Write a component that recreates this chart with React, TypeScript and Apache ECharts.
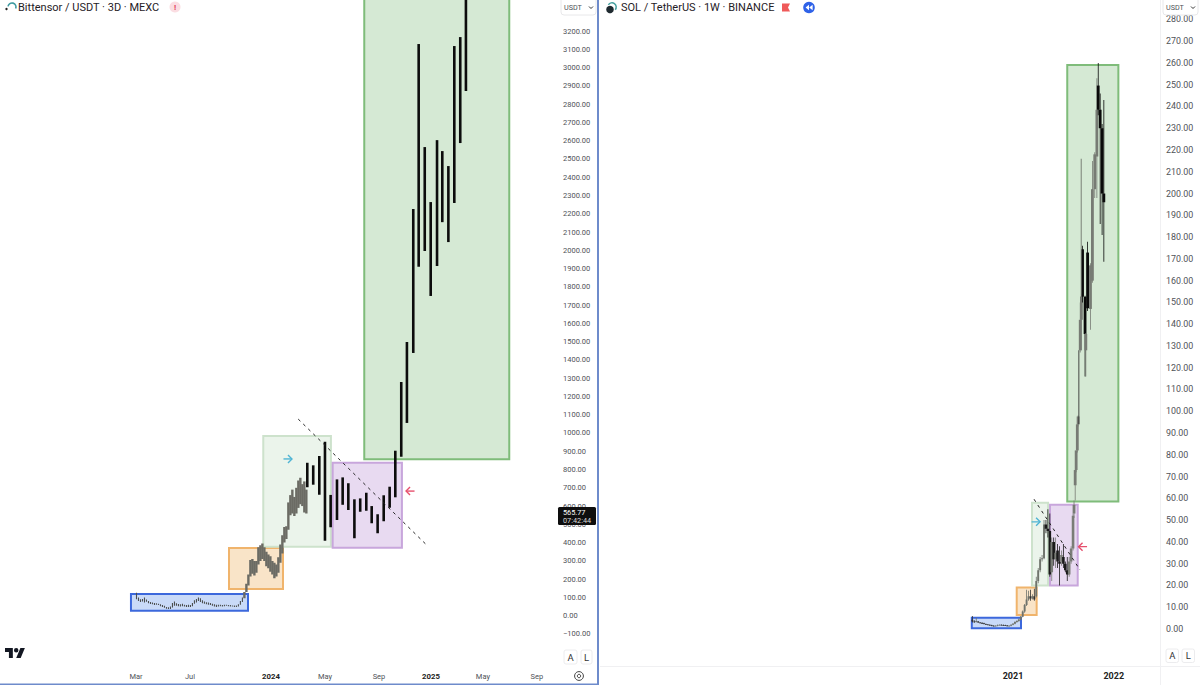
import React, { useEffect, useRef } from "react";
import * as echarts from "echarts";

// ---------- Bittensor (x unit: months since Jan 2023; y: USDT) ----------
const taoTickMonths = [2, 6, 12, 16, 20, 23.85, 27.7, 31.7];
const taoTickLabels = ["Mar", "Jul", "2024", "May", "Sep", "2025", "May", "Sep"];
const taoFirstMonth = 2.04;
const taoMonthStep = 0.148;
// [low, high] for consecutive early candles
const taoFlat = [
  [90,125],[80,100],[75,90],[78,92],[72,100],[76,88],[68,80],[64,75],[62,72],[58,70],[60,68],[58,66],[52,62],[48,58],[44,54],[38,48],[36,46],[36,50],[45,70],[55,78],[55,68],[52,64],[50,62],[52,66],[50,60],[48,58],[48,60],[48,58],[52,70],[65,85],[72,92],[80,100],[75,95],[68,85],[65,78],[62,74],[60,72],[58,70],[55,66],[50,62],[48,60],[50,60],[52,60],[50,58],[52,60],[54,60],[52,58],[50,58],[50,56],[48,56],[48,56],[50,62],[60,80],[75,100],
];
const taoRise = [
  [95,130],[130,175],[165,225],[215,305],[230,310],[220,300],[235,300],[280,375],[300,385],[310,395],[300,375],[270,350],[260,335],[240,325],[225,300],[205,290],[215,280],[235,320],[290,390],[340,440],[400,485],[420,490],[470,620],[550,660],[560,690],[545,650],[560,700],[590,740],[610,755],[600,720],[565,735],[560,690],
];
// [month, low, high]
const taoLate = [
  [14.69,703,837],[15.13,717,823],[15.58,662,874],[16.0,410,952],[16.42,484,661],[16.89,524,746],[17.31,607,757],[17.73,578,725],[18.18,424,637],[18.61,569,642],[19.06,575,673],[19.46,506,600],[19.9,451,555],[20.35,517,659],[20.79,591,706],[21.21,648,903],[21.65,870,1279],[22.07,1055,1498],[22.54,1438,2226],[22.94,1910,3129],[23.39,1996,2565],[23.83,1750,2264],[24.3,1914,2603],[24.69,2154,2543],[25.14,2045,2461],[25.58,2259,3118],[26.02,2587,3167],[26.44,2872,3420],
];
// [x0, x1, low, high]
const taoBoxes = [
  [1.63,10.3,27,119],[8.89,12.89,146,370],[11.43,16.44,378,983],[16.57,21.7,372,837],[18.91,29.65,856,3600],
];
const taoTrend = [[14.02,1076],[23.53,387]];
// [x, y, direction]
const taoArrows = [[13.26,858,1],[22.3,682,-1]];

// ---------- SOL (x unit: weeks since Jan 2021; y: USDT) ----------
const solTickWeeks = [0, 52];
const solTickLabels = ["2021", "2022"];
// [week, open, close, low, high]
const solEarly = [
  [-21,4.2,3.4,3,6],[-20,3.4,3.3,2.9,4],[-19,3.5,3.6,3,5.2],[-18,3.4,3,2.8,3.7],[-17,3,2.8,2.6,3.2],[-16,2.8,2.6,2.4,3],[-15,2.6,2.3,2.1,2.8],[-14,2.3,2.1,1.9,2.5],[-13,2.1,1.9,1.8,2.3],[-12,1.9,1.7,1.5,2.1],[-11,1.7,1.5,1.3,1.9],[-10,1.5,1.4,1.2,1.7],[-9,1.4,1.5,1.2,1.7],[-8,1.5,1.8,1.3,2],[-7,1.8,1.9,1.6,2.1],[-6,1.9,1.8,1.6,2.1],[-5,1.8,1.7,1.5,2],[-4,1.7,1.6,1.4,1.9],[-3,1.6,1.5,1.3,1.8],[-2,1.5,1.5,1.3,1.7],[-1,1.5,1.9,1.3,2.2],[0,1.9,2.4,1.7,2.7],[1,2.4,3.2,2.2,3.5],[2,3.2,3.6,2.9,4],[3,3.6,4.3,3.3,4.8],[4,4.3,5.6,4,6],[5,5.6,8,5.4,8.5],[6,8,11,7.5,11.5],[7,11,13.5,10.5,18],[8,13.5,15,13,17.5],[9,15,14,13,18],[10,14,15,13.5,16],[11,15,13.5,13,18.5],[12,15,22,14.5,24],[13,22,27,21,28],[14,27,32,26,33],[15,32,32.5,31,34],[16,32.5,48,32,50],
];
const solMiddle = [
  [17,48,46,44,50],[18,46,45,42,55],[19,45,25,24,53],[20,26,40,22,42],[21,40,32,29,42],[22,32,35,28,42],[23,36,31,28,39],[24,31,30,20,38],[25,31,34,29,36],[26,33,30,28,39],[27,30,27,26,31],[28,27,25,22,33],[29,25,31,24,33],[30,31,37,30,38],[31,37,52,36,53],
];
const solTop = [
  [31.5,53,57,51,59],[32.1,66,73,59,73],[32.6,73,82,72,82],[33.2,82,94,81,94],[33.6,94,97.6,93,98],[34.7,128,142,127,150],[35.3,142,152.7,128,154],[35.9,174.4,152.6,150,176],[37.2,152.6,135.5,116,153],[37.6,128,135.5,116,136],[38.5,172.9,147.3,146,177.8],[40,147,167,137.4,168],[41,160,202,159,215],[42.2,202,218,198,219],[43.3,217,238.5,198,253],[44,249.6,238.5,236,260],[45,238.5,230,186,246],[46,230,200,181,232],[46.9,200,196,168.7,243],
];
// [week, low, high]: the thin dark jump and the long pale wick
const solThinDark = [[34,94,128]];
const solThinPale = [[35.2,150,216]];
const solBoxes = [
  [-21.3,4.13,0.3,5.2],[1.9,12.2,6.4,19],[9.8,18.1,20,58],[19.1,33.4,20,57],[28,54.4,58.5,259],
];
const solTrend = [[10.84,59.6],[34.6,27.1]];
const solArrows = [[11.9,49.2,1],[35.9,37.8,-1]];

// ---------- styling ----------
const boxFills = ["#c9daf8", "#f9e4c8", "#ebf4eb", "#e8daf1", "#d5e9d4"];
const boxStrokes = ["#3c68dc", "#f0b46c", "#cde2cc", "#c8a6dc", "#7fbc7a"];
const UI_FONT = "Roboto, 'Noto Sans', sans-serif";
const AXIS_TEXT = "#4f5258";
const TV_PATH = "M14 22H7V11H0V4h14v18zM28 22h-8l7.5-18h8L28 22zM24 8a4 4 0 1 1-8 0 4 4 0 0 1 8 0z";

const boxSeries = (data: number[][], i: number) => ({
  type: "custom", xAxisIndex: i, yAxisIndex: i, clip: true, silent: true, z: 1, data,
  encode: { x: [0, 1], y: [2, 3] },
  renderItem: (params: any, api: any) => {
    const a = api.coord([api.value(0), api.value(3)]);
    const b = api.coord([api.value(1), api.value(2)]);
    return {
      type: "rect",
      shape: { x: a[0], y: a[1], width: b[0] - a[0], height: b[1] - a[1] },
      style: { fill: boxFills[params.dataIndex], stroke: boxStrokes[params.dataIndex], lineWidth: 2 },
    };
  },
});

const rangeSeries = (data: number[][], i: number, width: number, color: string, z = 3) => ({
  type: "custom", xAxisIndex: i, yAxisIndex: i, clip: true, silent: true, z, data,
  encode: { x: 0, y: [1, 2] },
  renderItem: (_: any, api: any) => {
    const a = api.coord([api.value(0), api.value(2)]);
    const b = api.coord([api.value(0), api.value(1)]);
    return {
      type: "rect",
      shape: { x: a[0] - width / 2, y: a[1], width, height: Math.max(b[1] - a[1], 1) },
      style: { fill: color },
    };
  },
});

const candleSeries = (data: number[][], i: number, up: string, down: string, bodyW: number) => ({
  type: "custom", xAxisIndex: i, yAxisIndex: i, clip: true, silent: true, z: 3, data,
  encode: { x: 0, y: [3, 4] },
  renderItem: (_: any, api: any) => {
    const o = api.coord([api.value(0), api.value(1)]);
    const c = api.coord([api.value(0), api.value(2)]);
    const l = api.coord([api.value(0), api.value(3)]);
    const h = api.coord([api.value(0), api.value(4)]);
    const color = api.value(2) < api.value(1) ? down : up;
    const top = Math.min(o[1], c[1]);
    return {
      type: "group",
      children: [
        { type: "rect", shape: { x: o[0] - 0.4, y: h[1], width: 0.8, height: l[1] - h[1] }, style: { fill: color } },
        { type: "rect", shape: { x: o[0] - bodyW / 2, y: top, width: bodyW, height: Math.max(Math.abs(o[1] - c[1]), 0.8) }, style: { fill: color } },
      ],
    };
  },
});

const trendSeries = (data: number[][], i: number) => ({
  type: "line", xAxisIndex: i, yAxisIndex: i, data, symbol: "none", silent: true, z: 4,
  lineStyle: { color: "#222", width: 1, type: [3, 4] },
});

const arrowSeries = (data: number[][], i: number) => ({
  type: "custom", xAxisIndex: i, yAxisIndex: i, clip: true, silent: true, z: 5, data,
  encode: { x: 0, y: 1 },
  renderItem: (_: any, api: any) => {
    const p = api.coord([api.value(0), api.value(1)]);
    const d = api.value(2);
    const color = d > 0 ? "#4fb4d4" : "#e6506e";
    const s = { stroke: color, lineWidth: 1.4, fill: "none" };
    return {
      type: "group",
      children: [
        { type: "polyline", shape: { points: [[p[0] - 4.5 * d, p[1]], [p[0] + 4 * d, p[1]]] }, style: s },
        { type: "polyline", shape: { points: [[p[0], p[1] - 4], [p[0] + 4 * d, p[1]], [p[0], p[1] + 4]] }, style: s },
      ],
    };
  },
});

const yLabel = (maxShown: number, minShown: number) => (v: number) => {
  if (v > maxShown || v < minShown) return "";
  return v < 0 ? "\u2212" + Math.abs(v).toFixed(2) : v.toFixed(2);
};

const xLabel = (ticks: number[], labels: string[]) => (v: number) => {
  const s = labels[ticks.indexOf(v)] ?? "";
  return /^\d{4}$/.test(s) ? `{b|${s}}` : s;
};

const usdtButton = (x: number, w: number, fs: number) => [
  { type: "rect", z: 20, shape: { x, y: -3, width: w, height: 18, r: 3 }, style: { fill: "#fff", stroke: "#e8e8ea", lineWidth: 1 } },
  { type: "text", z: 21, x: x + 3, y: 7.5, style: { text: "USDT", fill: AXIS_TEXT, font: `${fs}px ${UI_FONT}`, textVerticalAlign: "middle" } },
  { type: "polyline", z: 21, shape: { points: [[x + w - 7, 6.5], [x + w - 5, 8.5], [x + w - 3, 6.5]] }, style: { stroke: "#333", lineWidth: 1, fill: "none" } },
];

const miniButton = (x: number, y: number, w: number, h: number, t: string, fs: number) => [
  { type: "rect", z: 20, shape: { x, y, width: w, height: h, r: 2 }, style: { fill: "#fff", stroke: "#ececee", lineWidth: 1 } },
  { type: "text", z: 21, x: x + w / 2, y: y + h / 2, style: { text: t, fill: "#333", font: `${fs}px ${UI_FONT}`, textAlign: "center", textVerticalAlign: "middle" } },
];

export default function App() {
  const ref = useRef<HTMLDivElement>(null);
  useEffect(() => {
    document.body.style.margin = "0";
    document.body.style.background = "#fff";
    echarts.graphic.registerShape("tvLogo", echarts.graphic.extendPath(TV_PATH, {}) as any);

    const chart = echarts.init(ref.current!, undefined, { renderer: "svg" });
    const taoEarlyPts = taoFlat.map(([l, h], i) => [taoFirstMonth + i * taoMonthStep, l, h]);
    const taoRisePts = taoRise.map(([l, h], i) => [taoFirstMonth + (i + taoFlat.length) * taoMonthStep, l, h]);

    chart.setOption({
      animation: false,
      backgroundColor: "#ffffff",
      grid: [
        { left: 0, top: 0, width: 558, height: 670.5 },
        { left: 600, top: 0, width: 560, height: 672.5 },
      ],
      xAxis: [
        {
          type: "value", gridIndex: 0, min: -8.07, max: 33.26, splitLine: { show: false },
          axisLine: { show: false }, axisTick: { show: false },
          axisLabel: {
            customValues: taoTickMonths, formatter: xLabel(taoTickMonths, taoTickLabels), color: AXIS_TEXT,
            fontSize: 7.5, fontFamily: UI_FONT, margin: 1.5,
            rich: { b: { fontWeight: 700, fontSize: 7.8, fontFamily: UI_FONT, color: "#222" } },
          },
        },
        {
          type: "value", gridIndex: 1, min: -213.3, max: 75.9, splitLine: { show: false },
          axisLine: { show: false }, axisTick: { show: false },
          axisLabel: {
            customValues: solTickWeeks, formatter: xLabel(solTickWeeks, solTickLabels), color: AXIS_TEXT,
            fontSize: 9, fontFamily: UI_FONT, margin: -1,
            rich: { b: { fontWeight: 700, fontSize: 9, fontFamily: UI_FONT, color: "#222" } },
          },
        },
      ],
      yAxis: [
        {
          type: "value", gridIndex: 0, position: "right", min: -300, max: 3370, interval: 100, splitLine: { show: false },
          axisLine: { show: false }, axisTick: { show: false },
          axisLabel: { formatter: yLabel(3200, -100), color: AXIS_TEXT, fontSize: 7.5, fontFamily: UI_FONT, margin: 5, showMinLabel: true, showMaxLabel: true },
        },
        {
          type: "value", gridIndex: 1, position: "right", min: -20, max: 288.9, interval: 10, splitLine: { show: false },
          axisLine: { show: false }, axisTick: { show: false },
          axisLabel: { formatter: yLabel(280, 0), color: AXIS_TEXT, fontSize: 8.9, fontFamily: UI_FONT, margin: 6, showMinLabel: true, showMaxLabel: true },
        },
      ],
      series: [
        boxSeries(taoBoxes, 0),
        boxSeries(solBoxes, 1),
        rangeSeries(taoEarlyPts, 0, 1.1, "#4c4f4f"),
        rangeSeries(taoRisePts, 0, 2.4, "#6b6b64"),
        rangeSeries(taoLate, 0, 2.6, "#0c0c0c"),
        candleSeries(solEarly, 1, "#6f736c", "#333333", 1.9),
        candleSeries(solMiddle, 1, "#7a7d77", "#1a1a1a", 2.6),
        candleSeries(solTop, 1, "#777b74", "#0a0a0a", 2.8),
        rangeSeries(solThinDark, 1, 0.9, "#333333"),
        rangeSeries(solThinPale, 1, 0.9, "#6f736c"),
        trendSeries(taoTrend, 0),
        trendSeries(solTrend, 1),
        arrowSeries(taoArrows, 0),
        arrowSeries(solArrows, 1),
      ],
      graphic: [
        // pane borders and separators
        { type: "rect", z: 15, shape: { x: 597, y: 0, width: 2, height: 685 }, style: { fill: "#6e8bcb" } },
        { type: "rect", z: 15, shape: { x: 0, y: 683.5, width: 598, height: 1.5 }, style: { fill: "#6e8bcb" } },
        { type: "line", z: 15, shape: { x1: 1160.5, y1: 0, x2: 1160.5, y2: 685 }, style: { stroke: "#f0f0f2", lineWidth: 1 } },
        { type: "line", z: 15, shape: { x1: 600, y1: 666.5, x2: 1200, y2: 666.5 }, style: { stroke: "#f0f0f2", lineWidth: 1 } },
        // left header
        { type: "arc", z: 20, shape: { cx: 12, cy: 7, r: 4, startAngle: -3, endAngle: 0.4 }, style: { stroke: "#3e9aa0", lineWidth: 1.6, fill: "none" } },
        { type: "circle", z: 20, shape: { cx: 6.5, cy: 9, r: 1.2 }, style: { fill: "#222" } },
        { type: "text", z: 20, x: 18, y: 7.5, style: { text: "Bittensor / USDT \u00b7 3D \u00b7 MEXC", fill: "#1f2126", font: `11px ${UI_FONT}`, textVerticalAlign: "middle" } },
        { type: "circle", z: 20, shape: { cx: 175, cy: 7, r: 5.5 }, style: { fill: "#fbdde2" } },
        { type: "text", z: 21, x: 175, y: 7.5, style: { text: "!", fill: "#e0405a", font: `bold 8px ${UI_FONT}`, textAlign: "center", textVerticalAlign: "middle" } },
        // right header
        { type: "circle", z: 20, shape: { cx: 610, cy: 9.5, r: 3.8 }, style: { fill: "#1f2a30" } },
        { type: "arc", z: 20, shape: { cx: 612, cy: 7, r: 4.2, startAngle: -2.6, endAngle: 0.7 }, style: { stroke: "#46a0a0", lineWidth: 1.5, fill: "none" } },
        { type: "text", z: 20, x: 621, y: 7.5, style: { text: "SOL / TetherUS \u00b7 1W \u00b7 BINANCE", fill: "#1f2126", font: `11px ${UI_FONT}`, textVerticalAlign: "middle" } },
        { type: "polygon", z: 20, shape: { points: [[782, 3.5], [790, 3.5], [788, 7.5], [790, 11.5], [782, 11.5]] }, style: { fill: "#ef5a5a" } },
        { type: "circle", z: 20, shape: { cx: 809, cy: 7.5, r: 5.8 }, style: { fill: "#2f62e8" } },
        { type: "polygon", z: 21, shape: { points: [[809, 4.8], [809, 10.2], [805.6, 7.5]] }, style: { fill: "#fff" } },
        { type: "polygon", z: 21, shape: { points: [[812.6, 4.8], [812.6, 10.2], [809.2, 7.5]] }, style: { fill: "#fff" } },
        // price tag
        { type: "rect", z: 20, shape: { x: 558, y: 507, width: 38, height: 18, r: 1.5 }, style: { fill: "#0e0e0e" } },
        { type: "text", z: 21, x: 563, y: 512, style: { text: "565.77", fill: "#fff", font: `7.3px ${UI_FONT}`, textVerticalAlign: "middle" } },
        { type: "text", z: 21, x: 563, y: 520, style: { text: "07:42:44", fill: "#d8d8d8", font: `7.3px ${UI_FONT}`, textVerticalAlign: "middle" } },
        // buttons
        ...usdtButton(561, 35, 7.2),
        ...usdtButton(1163, 35, 7.2),
        ...miniButton(564, 650, 13, 14, "A", 9.5),
        ...miniButton(581, 650, 11, 14, "L", 9.5),
        ...miniButton(1166, 649, 12.5, 13.5, "A", 9.5),
        ...miniButton(1182, 649, 12.5, 13.5, "L", 9.5),
        // settings icon
        { type: "circle", z: 20, shape: { cx: 579, cy: 676, r: 4.4 }, style: { fill: "none", stroke: "#444", lineWidth: 1 } },
        { type: "circle", z: 20, shape: { cx: 579, cy: 676, r: 1.7 }, style: { fill: "none", stroke: "#444", lineWidth: 1 } },
        // TradingView mark
        { type: "tvLogo", z: 20, x: 5, y: 645.8, scaleX: 0.56, scaleY: 0.56, style: { fill: "#131722" } },
      ],
    });
    return () => chart.dispose();
  }, []);
  return <div ref={ref} style={{ width: 1200, height: 685 }} />;
}
